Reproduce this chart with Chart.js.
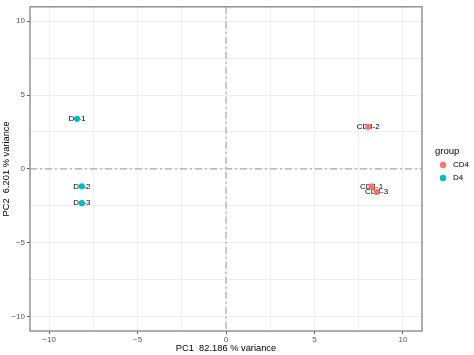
<!DOCTYPE html>
<html><head><meta charset="utf-8">
<script src="https://cdn.jsdelivr.net/npm/chart.js@4/dist/chart.umd.min.js"></script>
<style>html,body{margin:0;padding:0;background:#fff}#wrap{width:474px;height:355px}</style>
</head><body><div id="wrap"><canvas id="c" width="474" height="355"></canvas></div>
<script>
const groups = ["CD4", "D4"];
const groupColors = ["#F8766D", "#00BFC4"];
const cd4Labels = ["CD4-1", "CD4-2", "CD4-3"];
const cd4PC1 = [8.23, 8.04, 8.51];
const cd4PC2 = [-1.18, 2.85, -1.56];
const d4Labels = ["D4-1", "D4-2", "D4-3"];
const d4PC1 = [-8.42, -8.15, -8.15];
const d4PC2 = [3.39, -1.18, -2.32];
const xTicks = [-10, -7.5, -5, -2.5, 0, 2.5, 5, 7.5, 10];
const yTicks = [-10, -7.5, -5, -2.5, 0, 2.5, 5, 7.5, 10];
const xTitle = "PC1  82.186 % variance";
const yTitle = "PC2  6.201 % variance";
const legendTitle = "group";

const FONT = "'Liberation Sans', Arial, sans-serif";

function pts(xs, ys, labs){ return xs.map((x,i)=>({x:x, y:ys[i], label:labs[i]})); }

const overlay = {
  id: 'overlay',
  beforeDatasetsDraw(chart){
    const {ctx, chartArea:a, scales:{x, y}} = chart;
    ctx.save();
    ctx.strokeStyle = '#AAAAAA';
    ctx.lineWidth = 1.2;
    ctx.setLineDash([7,3,2,3]);
    const x0 = x.getPixelForValue(0), y0 = y.getPixelForValue(0);
    ctx.beginPath(); ctx.moveTo(x0, a.top); ctx.lineTo(x0, a.bottom); ctx.stroke();
    ctx.beginPath(); ctx.moveTo(a.left, y0); ctx.lineTo(a.right, y0); ctx.stroke();
    ctx.setLineDash([]);
    ctx.fillStyle = '#000';
    ctx.font = "8px " + FONT;
    ctx.textAlign = 'center'; ctx.textBaseline = 'middle';
    chart.data.datasets.forEach(ds => {
      ds.data.forEach(p => {
        ctx.fillText(p.label, x.getPixelForValue(p.x), y.getPixelForValue(p.y));
      });
    });
    ctx.restore();
  },
  afterDraw(chart){
    const {ctx, chartArea:a} = chart;
    ctx.save();
    ctx.strokeStyle = '#8C8C8C';
    ctx.lineWidth = 1.4;
    ctx.strokeRect(a.left, a.top, a.right - a.left, a.bottom - a.top);
    ctx.fillStyle = '#000';
    ctx.font = "9.5px " + FONT;
    ctx.textAlign = 'left'; ctx.textBaseline = 'middle';
    ctx.fillText(legendTitle, 435, 151);
    groups.forEach((g, i) => {
      const cy = 165 + i * 13;
      ctx.fillStyle = groupColors[i];
      ctx.beginPath(); ctx.arc(443, cy, 3.2, 0, Math.PI * 2); ctx.fill();
      ctx.fillStyle = '#000';
      ctx.font = "8px " + FONT;
      ctx.fillText(g, 453, cy);
    });
    ctx.restore();
  }
};

const tickCol = (ctx) => (ctx.tick && ctx.tick.value % 5 === 0) ? '#333333' : 'rgba(0,0,0,0)';
const fmt = v => (v % 5 === 0 ? (v < 0 ? '\u2212' + Math.abs(v) : String(v)) : '');

new Chart(document.getElementById('c'), {
  type: 'scatter',
  data: {
    datasets: [
      { label: groups[0], data: pts(cd4PC1, cd4PC2, cd4Labels), backgroundColor: groupColors[0], borderColor: groupColors[0], pointRadius: 3.1, pointBorderWidth: 0 },
      { label: groups[1], data: pts(d4PC1, d4PC2, d4Labels), backgroundColor: groupColors[1], borderColor: groupColors[1], pointRadius: 3.1, pointBorderWidth: 0 }
    ]
  },
  options: {
    responsive: false,
    animation: false,
    devicePixelRatio: 1,
    layout: { padding: { left: 0, right: 52, top: 3, bottom: 0 } },
    plugins: { legend: { display: false }, tooltip: { enabled: false } },
    scales: {
      x: {
        type: 'linear', min: -11.08, max: 11.08,
        afterBuildTicks: s => { s.ticks = xTicks.map(v => ({ value: v })); },
        afterFit: s => { s.height = 24; },
        border: { display: false },
        grid: { color: '#EBEBEB', lineWidth: 0.8, tickLength: 3, tickColor: tickCol, drawTicks: true },
        ticks: { color: '#555555', font: { size: 8, family: FONT }, padding: 1, maxRotation: 0, autoSkip: false, callback: fmt },
        title: { display: true, text: xTitle, color: '#000', font: { size: 9.3, family: FONT }, padding: { top: 0, bottom: 1 } }
      },
      y: {
        type: 'linear', min: -10.98, max: 10.98,
        afterBuildTicks: s => { s.ticks = yTicks.map(v => ({ value: v })); },
        afterFit: s => { s.width = 30; },
        border: { display: false },
        grid: { color: '#EBEBEB', lineWidth: 0.8, tickLength: 3, tickColor: tickCol, drawTicks: true },
        ticks: { color: '#555555', font: { size: 8, family: FONT }, padding: 2, autoSkip: false, callback: fmt },
        title: { display: true, text: yTitle, color: '#000', font: { size: 9.3, family: FONT }, padding: { top: 1, bottom: 0 } }
      }
    }
  },
  plugins: [overlay]
});
</script>
</body></html>
